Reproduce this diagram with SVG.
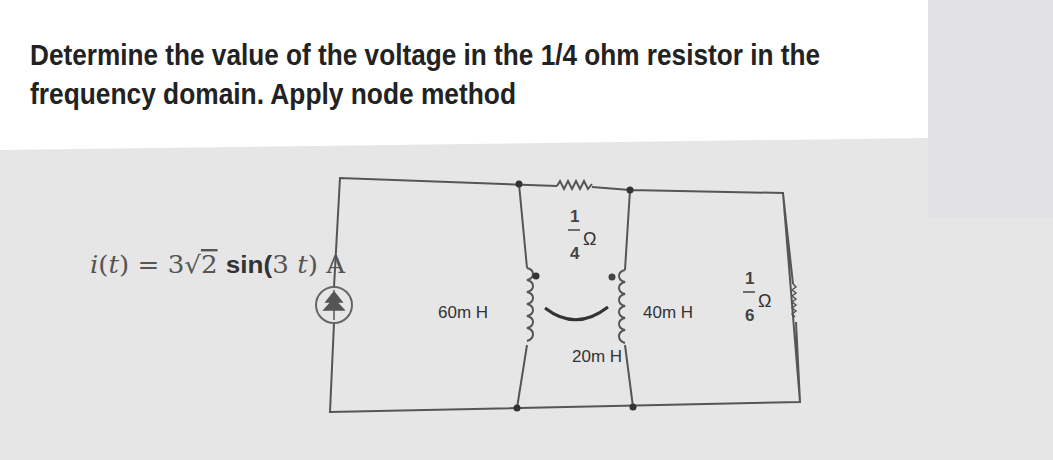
<svg xmlns="http://www.w3.org/2000/svg" width="1053" height="460" viewBox="0 0 1053 460">
<style>
.w{fill:none;stroke:#555;stroke-width:2}
.t{font-family:"Liberation Sans",Arial,sans-serif;fill:#333}
.h{font-family:"Liberation Sans",sans-serif;font-weight:bold;font-size:29px;fill:#222}
.f{font-family:"Liberation Sans",sans-serif;font-weight:bold;font-size:17px;fill:#444}
</style>
<rect width="1053" height="460" fill="#fff"/>
<rect x="928" y="0" width="125" height="218" fill="#e2e1e3"/>
<path d="M0 150 L928 138 L928 218 L1053 218 L1053 460 L0 460 Z" fill="#e6e6e6"/>
<text class="h" x="30" y="65" textLength="790" lengthAdjust="spacingAndGlyphs">Determine the value of the voltage in the 1/4 ohm resistor in the</text>
<text class="h" x="30" y="104" textLength="486" lengthAdjust="spacingAndGlyphs">frequency domain. Apply node method</text>
<text x="90" y="273" font-family="'DejaVu Serif',serif" font-size="24" fill="#555" textLength="255" lengthAdjust="spacingAndGlyphs"><tspan font-style="italic">i</tspan>(<tspan font-style="italic">t</tspan>) = 3√<tspan text-decoration="overline">2</tspan> <tspan font-family="Liberation Sans,sans-serif" font-weight="bold" fill="#333">sin(</tspan>3 <tspan font-style="italic">t</tspan>) A</text>
<g id="connectors">
<path class="w" d="M557 186 L340 178 L334 287 M334 323 L330 412 L800 402 L783 193 L630 190 M519 184 L527 268 M527 345 L517 408 M630 190 L625 270 M625 345 L633 407 M783 193 L793 284 M796 322 L800 402 M592 187 L630 190"/>
</g>
<g id="src"><circle cx="334" cy="305" r="18" fill="none" stroke="#666" stroke-width="2"/><path d="M334 290 L334 320 M326 302 L342 302 L334 292 Z M324 310 L344 310 L334 299 Z" fill="#555" stroke="#555" stroke-width="1.5"/></g>
<g id="r14"><path class="w" d="M557 186 l3 -5 l4 8 l4 -8 l4 8 l4 -8 l4 8 l4 -8 l4 8 l4 -5"/>
<text class="f" x="570" y="222">1</text><line x1="568" y1="230" x2="580" y2="230" stroke="#444" stroke-width="1.5"/><text class="f" x="570" y="259">4</text><text class="t" x="583" y="245" font-size="18" fill="#444">Ω</text></g>
<g id="L60"><path class="w" d="M527 268 c8 2 8 10 0 12 c8 2 8 10 0 12 c8 2 8 10 0 12 c8 2 8 10 0 12 c8 2 8 10 0 12 c8 2 8 10 0 13"/><circle cx="536" cy="276" r="3.5" fill="#333"/><text class="t" x="438" y="318" font-size="17">60m H</text></g>
<g id="L40"><path class="w" d="M625 270 c-8 2 -8 10 0 12 c-8 2 -8 10 0 12 c-8 2 -8 10 0 12 c-8 2 -8 10 0 12 c-8 2 -8 10 0 12 c-8 2 -8 10 0 13"/><circle cx="612" cy="277" r="3.5" fill="#444"/><text class="t" x="643" y="318" font-size="17">40m H</text></g>
<path d="M545 308 Q576 332 608 307" fill="none" stroke="#333" stroke-width="3"/>
<text class="t" x="572" y="362" font-size="17">20m H</text>
<g id="r16"><path d="M793 284 l3 3 l-4 3 l4 3 l-4 3 l4 3 l-4 3 l4 3 l-4 3 l4 3 l-4 3 l3 3" fill="none" stroke="#555" stroke-width="1.5"/>
<text class="f" x="745" y="284">1</text><line x1="743" y1="292" x2="755" y2="292" stroke="#444" stroke-width="1.5"/><text class="f" x="745" y="321">6</text><text class="t" x="758" y="307" font-size="18" fill="#444">Ω</text></g>
<g id="nodes" fill="#333"><circle cx="519" cy="184" r="3.5"/><circle cx="630" cy="190" r="3.5"/><circle cx="517" cy="408" r="3.5"/><circle cx="633" cy="407" r="3.5"/></g>
</svg>
